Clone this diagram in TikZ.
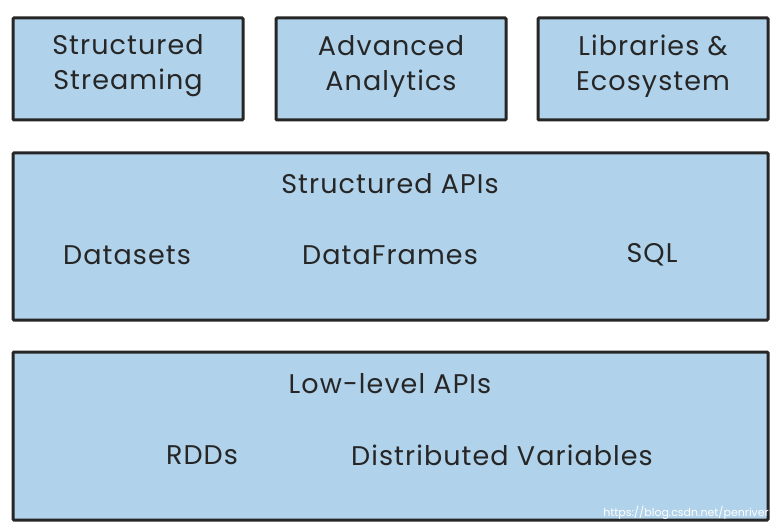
\documentclass[tikz,border=0pt]{standalone}
\usepackage{fontspec}
\setmainfont{Poppins}
\begin{document}
\begin{tikzpicture}[x=1pt,y=-1pt,
  box/.style={draw=black!85,line width=3pt,fill=boxblue,rounded corners=1pt},
  lbl/.style={font=\fontsize{27}{35}\selectfont\addfontfeatures{LetterSpace=4}, text=black!85, align=center}]
\definecolor{boxblue}{HTML}{B0D2EA}
\useasboundingbox (0,0) rectangle (782,532);
\fill[white] (0,0) rectangle (782,532);
\draw[box] (13,18) rectangle (243,120);
\draw[box] (276,18) rectangle (506,120);
\draw[box] (538,18) rectangle (768,120);
\draw[box] (13,153) rectangle (768,320);
\draw[box] (13,352) rectangle (768,520);
\node[lbl] (ss) at (128,66) {Structured\\Streaming};
\node[lbl] (aa) at (391,66) {Advanced\\Analytics};
\node[lbl] (le) at (653,66) {Libraries \&\\Ecosystem};
\node[lbl] (sa) at (390,184) {Structured APIs};
\node[lbl] (ds) at (127,255) {Datasets};
\node[lbl] (df) at (390,255) {DataFrames};
\node[lbl] (sq) at (652,255) {SQL};
\node[lbl] (la) at (390,384) {Low-level APIs};
\node[lbl] (rd) at (202,455) {RDDs};
\node[lbl] (dv) at (502,455) {Distributed Variables};
\node[font=\fontsize{11}{13}\selectfont, text=white, anchor=south east, inner sep=1pt] (wm) at (770,521) {https://blog.csdn.net/penriver};
\end{tikzpicture}
\end{document}
